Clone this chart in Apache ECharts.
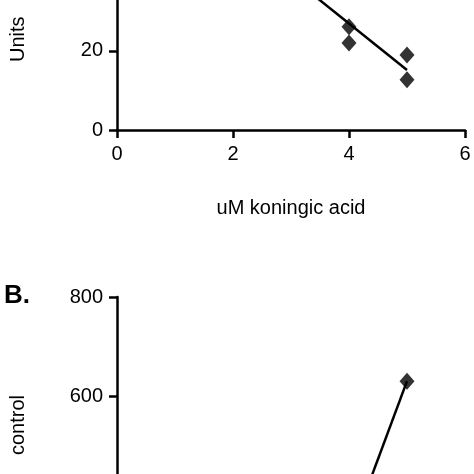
<!DOCTYPE html>
<html>
<head>
<meta charset="utf-8">
<script src="https://cdn.jsdelivr.net/npm/echarts@6/dist/echarts.min.js"></script>
<style>html,body{margin:0;padding:0;background:#fff}#c{width:474px;height:474px}</style>
</head>
<body>
<div id="c"></div>
<script>
// panel A: points and fitted line
var pointsA = [[4, 26.1], [4, 22.0], [5, 19.0], [5, 12.7]];
var lineA = [[3, 38.7], [5, 15.2]];
// panel B
var pointsB = [[5, 630]];
var lineB = [[4.2, 378], [5, 630]];
var yTicksA = [0, 20];
var yTicksB = [600, 800];

var font = 'Liberation Sans, Arial, sans-serif';
var lbl = { color: '#000', fontSize: 20, fontFamily: font, margin: 14 };
var line = { lineStyle: { color: '#000', width: 2.5 } };

var chart = echarts.init(document.getElementById('c'));
chart.setOption({
	animation: false,
	grid: [
		{ left: 117, width: 348, top: 0, height: 130 },
		{ left: 117, width: 348, top: 297, height: 177 }
	],
	xAxis: [
		{
			gridIndex: 0, type: 'value', min: 0, max: 6, interval: 2,
			axisLine: line, axisTick: { lineStyle: { color: '#000', width: 2.5 }, length: 8 },
			axisLabel: lbl, splitLine: { show: false },
			name: 'uM koningic acid', nameLocation: 'middle', nameGap: 68,
			nameTextStyle: { color: '#000', fontSize: 20, fontFamily: font }
		},
		{ gridIndex: 1, type: 'value', min: 0, max: 6, show: false }
	],
	yAxis: [
		{
			gridIndex: 0, type: 'value', min: 0, max: 32.9,
			axisLine: line,
			axisTick: { lineStyle: { color: '#000', width: 2.5 }, length: 8, customValues: yTicksA },
			axisLabel: Object.assign({ customValues: yTicksA }, lbl), splitLine: { show: false }
		},
		{
			gridIndex: 1, type: 'value', min: 442.4, max: 800,
			axisLine: line,
			axisTick: { lineStyle: { color: '#000', width: 2.5 }, length: 8, customValues: yTicksB },
			axisLabel: Object.assign({ customValues: yTicksB }, lbl), splitLine: { show: false }
		}
	],
	graphic: [
		{ type: 'text', left: 4, top: 283, style: { text: 'B.', font: 'bold 26px ' + font, fill: '#000' } },
		{ type: 'text', x: 8, y: 62, rotation: Math.PI / 2, style: { text: 'Units', font: '20px ' + font, fill: '#000' } },
		{ type: 'text', x: 8, y: 455, rotation: Math.PI / 2, style: { text: 'control', font: '20px ' + font, fill: '#000' } }
	],
	series: [
		{ type: 'line', xAxisIndex: 0, yAxisIndex: 0, data: lineA, symbol: 'none', clip: true,
			lineStyle: { color: '#000', width: 2.5 } },
		{ type: 'scatter', xAxisIndex: 0, yAxisIndex: 0, data: pointsA, symbol: 'diamond', symbolSize: [15, 17],
			clip: false, itemStyle: { color: '#000' } },
		{ type: 'line', xAxisIndex: 1, yAxisIndex: 1, data: lineB, symbol: 'none', clip: true,
			lineStyle: { color: '#000', width: 2.5 } },
		{ type: 'scatter', xAxisIndex: 1, yAxisIndex: 1, data: pointsB, symbol: 'diamond', symbolSize: [15, 17],
			itemStyle: { color: '#000' } }
	]
});
</script>
</body>
</html>
